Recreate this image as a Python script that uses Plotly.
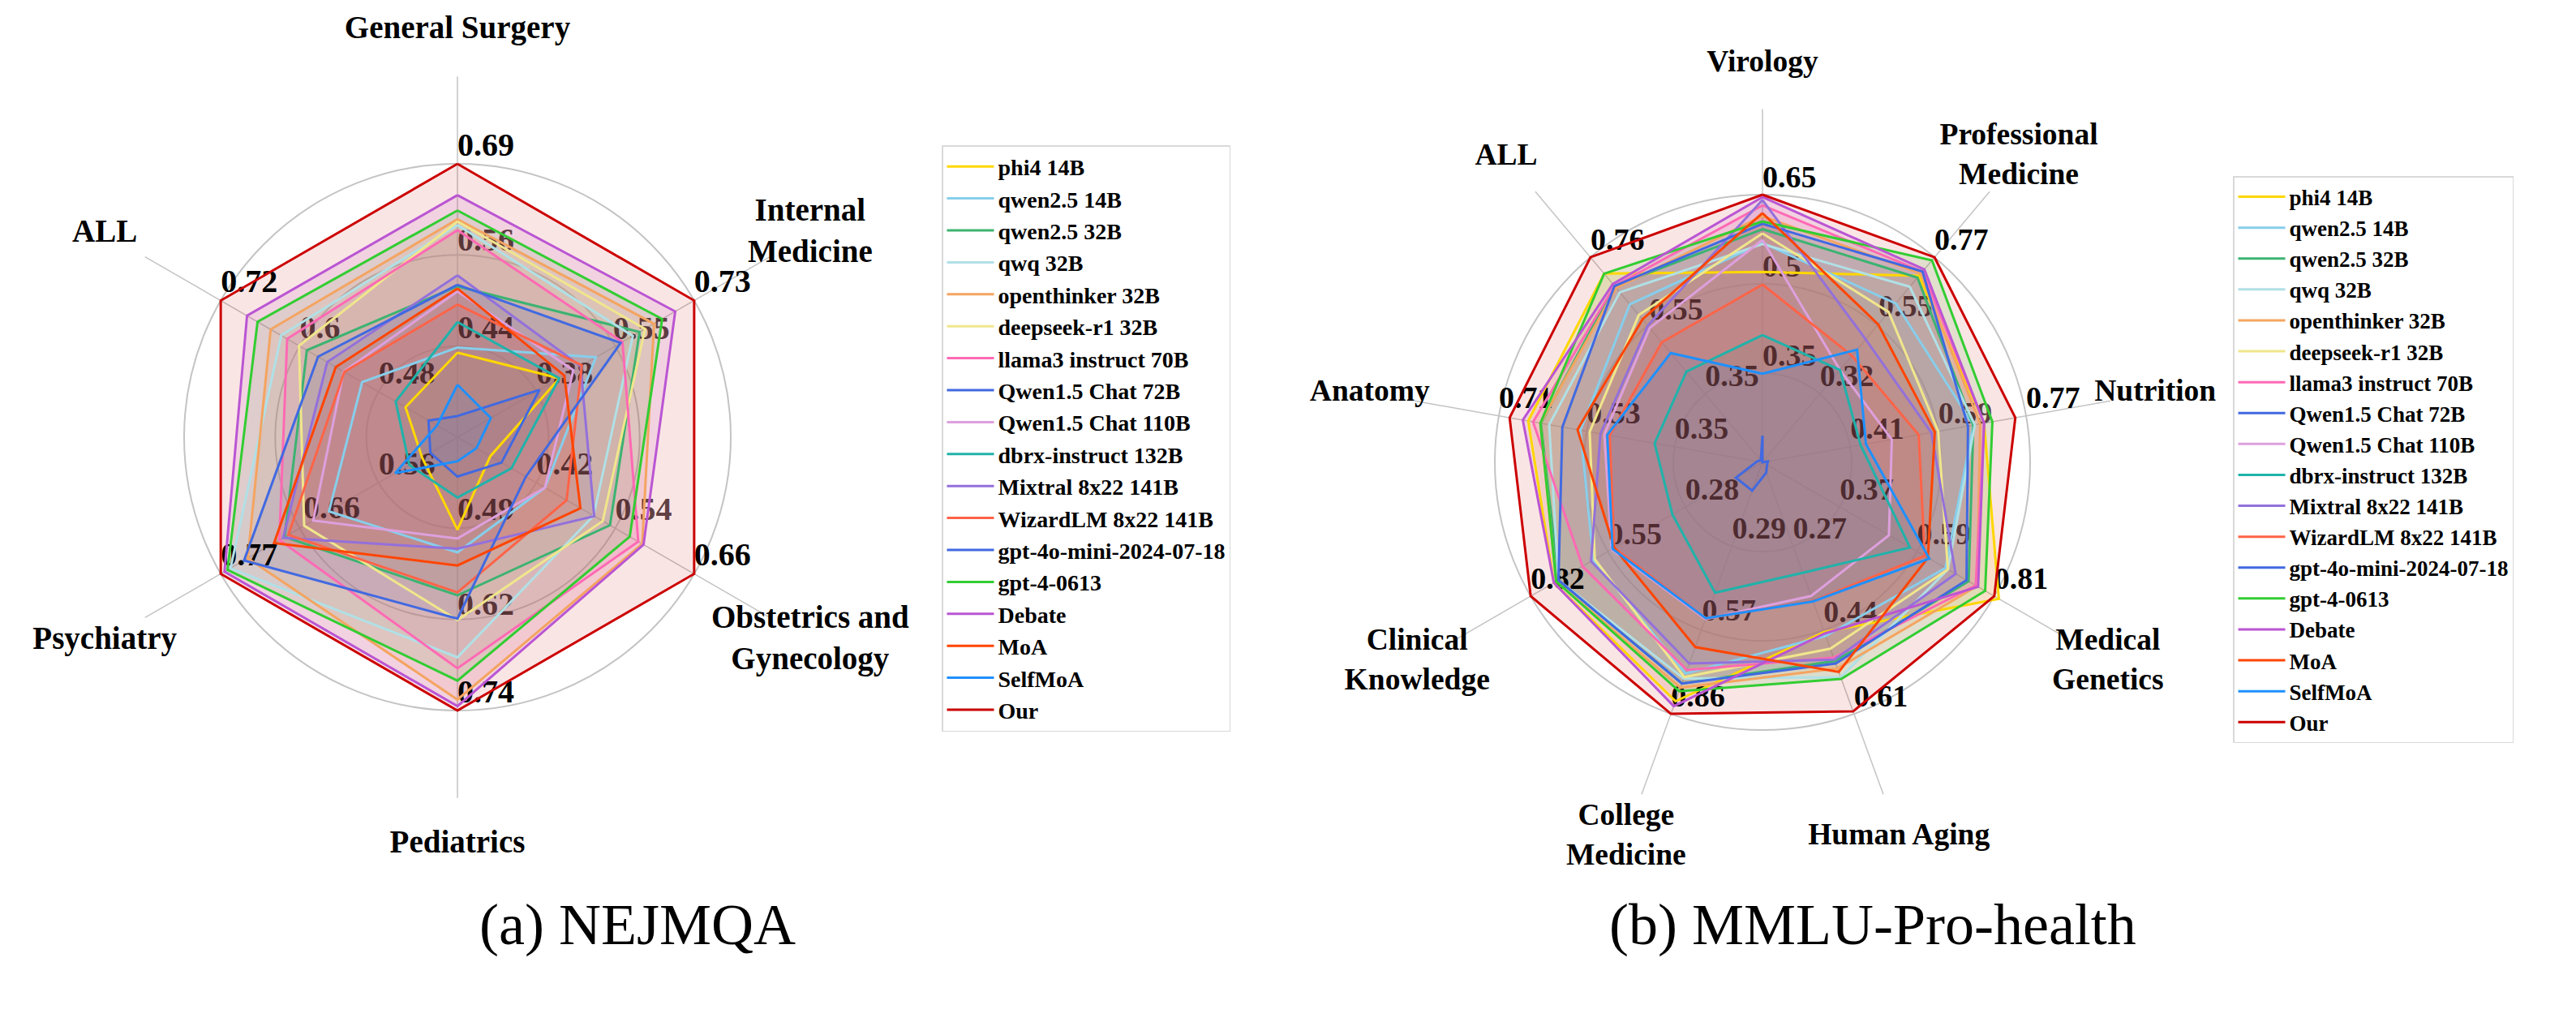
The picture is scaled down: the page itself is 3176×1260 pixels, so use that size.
import plotly.graph_objects as go

# ---------------- data ----------------
models = ["phi4 14B", "qwen2.5 14B", "qwen2.5 32B", "qwq 32B", "openthinker 32B",
          "deepseek-r1 32B", "llama3 instruct 70B", "Qwen1.5 Chat 72B", "Qwen1.5 Chat 110B",
          "dbrx-instruct 132B", "Mixtral 8x22 141B", "WizardLM 8x22 141B",
          "gpt-4o-mini-2024-07-18", "gpt-4-0613", "Debate", "MoA", "SelfMoA", "Our"]

colors = ["#FFD700", "#87CEEB", "#3CB371", "#B0E0E6", "#F4A460", "#F0E68C", "#FF69B4",
          "#4169E1", "#DDA0DD", "#20B2AA", "#9370DB", "#FF6347", "#4169E1", "#32CD32",
          "#BA55D3", "#FF4500", "#1E90FF", "#CC0000"]

# (a) NEJMQA
nejm_axes = ["General Surgery", "Internal<br>Medicine", "Obstetrics and<br>Gynecology",
             "Pediatrics", "Psychiatry", "ALL"]
nejm_ticks = [[0.44, 0.56, 0.69], [0.38, 0.55, 0.73], [0.42, 0.54, 0.66],
              [0.49, 0.62, 0.74], [0.56, 0.66, 0.77], [0.48, 0.60, 0.72]]

nejm_phi4 = [0.431, 0.431, 0.350, 0.492, 0.502, 0.439]
nejm_qwen25_14b = [0.438, 0.512, 0.433, 0.523, 0.626, 0.505]
nejm_qwen25_32b = [0.522, 0.609, 0.532, 0.582, 0.685, 0.589]
nejm_qwq_32b = [0.606, 0.594, 0.507, 0.667, 0.757, 0.628]
nejm_openthinker = [0.614, 0.641, 0.581, 0.725, 0.734, 0.644]
nejm_deepseek = [0.611, 0.621, 0.521, 0.616, 0.659, 0.601]
nejm_llama3 = [0.599, 0.571, 0.575, 0.682, 0.692, 0.619]
nejm_qwen15_72b = [0.344, 0.387, 0.367, 0.419, 0.491, 0.404]
nejm_qwen15_110b = [0.515, 0.462, 0.433, 0.504, 0.647, 0.533]
nejm_dbrx = [0.473, 0.431, 0.382, 0.448, 0.519, 0.454]
nejm_mixtral = [0.537, 0.478, 0.508, 0.518, 0.687, 0.558]
nejm_wizardlm = [0.497, 0.481, 0.466, 0.578, 0.680, 0.532]
nejm_gpt4o_mini = [0.524, 0.567, 0.404, 0.614, 0.739, 0.572]
nejm_gpt4 = [0.626, 0.659, 0.562, 0.699, 0.761, 0.664]
nejm_debate = [0.647, 0.688, 0.583, 0.734, 0.765, 0.680]
nejm_moa = [0.519, 0.442, 0.487, 0.541, 0.699, 0.545]
nejm_selfmoa = [0.387, 0.279, 0.329, 0.398, 0.538, 0.391]
nejm_our = [0.690, 0.730, 0.660, 0.740, 0.770, 0.720]

# (b) MMLU-Pro-health
mmlu_axes = ["Virology", "Professional<br>Medicine", "Nutrition", "Medical<br>Genetics",
             "Human Aging", "College<br>Medicine", "Clinical<br>Knowledge", "Anatomy", "ALL"]
mmlu_ticks = [[0.35, 0.50, 0.65], [0.32, 0.55, 0.77], [0.41, 0.59, 0.77],
              [0.37, 0.59, 0.81], [0.27, 0.44, 0.61], [0.29, 0.57, 0.86],
              [0.28, 0.55, 0.82], [0.35, 0.53, 0.71], [0.35, 0.55, 0.76]]

mmlu_phi4 = [0.520, 0.709, 0.684, 0.823, 0.444, 0.817, 0.739, 0.650, 0.711]
mmlu_qwen25_14b = [0.569, 0.618, 0.662, 0.671, 0.452, 0.723, 0.601, 0.543, 0.619]
mmlu_qwen25_32b = [0.592, 0.703, 0.662, 0.737, 0.503, 0.757, 0.723, 0.624, 0.674]
mmlu_qwq_32b = [0.567, 0.673, 0.665, 0.678, 0.536, 0.740, 0.723, 0.607, 0.655]
mmlu_openthinker = [0.614, 0.716, 0.676, 0.761, 0.518, 0.771, 0.731, 0.625, 0.668]
mmlu_deepseek = [0.585, 0.590, 0.590, 0.678, 0.478, 0.735, 0.596, 0.524, 0.587]
mmlu_llama3 = [0.632, 0.723, 0.684, 0.757, 0.496, 0.711, 0.639, 0.640, 0.674]
mmlu_qwen15_72b = [0.245, 0.095, 0.241, 0.163, 0.121, 0.101, 0.103, 0.181, 0.151]
mmlu_qwen15_110b = [0.574, 0.399, 0.495, 0.510, 0.371, 0.538, 0.537, 0.494, 0.548]
mmlu_dbrx = [0.414, 0.399, 0.431, 0.570, 0.324, 0.448, 0.325, 0.391, 0.417]
mmlu_mixtral = [0.641, 0.500, 0.576, 0.700, 0.500, 0.689, 0.609, 0.502, 0.555]
mmlu_wizardlm = [0.499, 0.446, 0.550, 0.612, 0.381, 0.535, 0.528, 0.483, 0.505]
mmlu_gpt4o_mini = [0.601, 0.723, 0.651, 0.731, 0.508, 0.757, 0.723, 0.580, 0.674]
mmlu_gpt4 = [0.605, 0.760, 0.701, 0.784, 0.539, 0.783, 0.731, 0.625, 0.711]
mmlu_debate = [0.646, 0.730, 0.684, 0.764, 0.447, 0.834, 0.739, 0.661, 0.680]
mmlu_moa = [0.619, 0.549, 0.583, 0.621, 0.525, 0.633, 0.528, 0.549, 0.574]
mmlu_selfmoa = [0.349, 0.466, 0.442, 0.625, 0.382, 0.535, 0.534, 0.488, 0.473]
mmlu_our = [0.650, 0.770, 0.748, 0.810, 0.605, 0.860, 0.820, 0.688, 0.760]

nejm_values = [nejm_phi4, nejm_qwen25_14b, nejm_qwen25_32b, nejm_qwq_32b, nejm_openthinker,
               nejm_deepseek, nejm_llama3, nejm_qwen15_72b, nejm_qwen15_110b, nejm_dbrx,
               nejm_mixtral, nejm_wizardlm, nejm_gpt4o_mini, nejm_gpt4, nejm_debate,
               nejm_moa, nejm_selfmoa, nejm_our]
mmlu_values = [mmlu_phi4, mmlu_qwen25_14b, mmlu_qwen25_32b, mmlu_qwq_32b, mmlu_openthinker,
               mmlu_deepseek, mmlu_llama3, mmlu_qwen15_72b, mmlu_qwen15_110b, mmlu_dbrx,
               mmlu_mixtral, mmlu_wizardlm, mmlu_gpt4o_mini, mmlu_gpt4, mmlu_debate,
               mmlu_moa, mmlu_selfmoa, mmlu_our]

# ---------------- helpers ----------------
FONT = "Liberation Serif"
SPOKE_END = 1.32     # spokes reach a bit beyond the outer ring
LABEL_R = 1.49       # radius of the category labels
RMAX = 1.55          # radial range of each polar subplot
OFF = 8              # page body margin
W, H = 3176 - 2 * OFF, 1260 - 2 * OFF


def px(x):
    return min(1.0, max(0.0, (x - OFF) / W))


def py(y):
    return min(1.0, max(0.0, 1 - (y - OFF) / H))


def rgba(h, a):
    h = h.lstrip("#")
    return f"rgba({int(h[0:2], 16)},{int(h[2:4], 16)},{int(h[4:6], 16)},{a})"


def norm(v, t):
    # ticks sit on the rings at 1/3, 2/3 and 1 of the unit radius
    slope = (t[2] - t[0]) / (2.0 / 3.0)
    lo = t[0] - slope / 3.0
    return (v - lo) / slope


def fmt(v):
    return f"{v:g}"


fig = go.Figure()


def add_radar(polar, legend, axes, ticks, values, fsize, lsize):
    n = len(axes)
    thetas = [i * 360.0 / n for i in range(n)]
    tt = thetas + [thetas[0]]
    # spokes
    for th in thetas:
        fig.add_trace(go.Scatterpolar(
            r=[0, SPOKE_END], theta=[th, th], mode="lines",
            line=dict(color="#c4c4c4", width=1.5), subplot=polar,
            showlegend=False, hoverinfo="skip"))
    # category labels
    fig.add_trace(go.Scatterpolar(
        r=[LABEL_R] * n, theta=thetas, text=axes, mode="text", textposition="middle center",
        textfont=dict(family=FONT, size=lsize, color="black", weight="bold"),
        subplot=polar, showlegend=False, hoverinfo="skip", cliponaxis=False))
    # translucent fills
    for name, col, vals in zip(models, colors, values):
        rr = [norm(v, t) for v, t in zip(vals, ticks)]
        rr = rr + [rr[0]]
        alpha = 0.10 if name == "Our" else 0.12
        fig.add_trace(go.Scatterpolar(
            r=rr, theta=tt, mode="lines", fill="toself", fillcolor=rgba(col, alpha),
            line=dict(width=0, color=rgba(col, 0)), subplot=polar, showlegend=False,
            hoverinfo="skip", legendgroup=legend + name))
    # tick labels: inner rings (muted) and outer ring (black)
    r_in, th_in, tx_in = [], [], []
    for k in range(2):
        for i in range(n):
            r_in.append(norm(ticks[i][k], ticks[i]))
            th_in.append(thetas[i])
            tx_in.append(fmt(ticks[i][k]))
    fig.add_trace(go.Scatterpolar(
        r=r_in, theta=th_in, text=tx_in, mode="text", textposition="top right",
        textfont=dict(family=FONT, size=fsize, color="rgba(55,18,22,0.78)", weight="bold"),
        subplot=polar, showlegend=False, hoverinfo="skip", cliponaxis=False))
    fig.add_trace(go.Scatterpolar(
        r=[norm(ticks[i][2], ticks[i]) for i in range(n)], theta=thetas,
        text=[fmt(ticks[i][2]) for i in range(n)], mode="text", textposition="top right",
        textfont=dict(family=FONT, size=fsize, color="black", weight="bold"),
        subplot=polar, showlegend=False, hoverinfo="skip", cliponaxis=False))
    # series outlines
    for name, col, vals in zip(models, colors, values):
        rr = [norm(v, t) for v, t in zip(vals, ticks)]
        rr = rr + [rr[0]]
        fig.add_trace(go.Scatterpolar(
            r=rr, theta=tt, mode="lines", name=name, line=dict(width=3, color=col),
            subplot=polar, legend=legend, legendgroup=legend + name))
    return thetas


th1 = add_radar("polar", "legend", nejm_axes, nejm_ticks, nejm_values, 40, 39)
th2 = add_radar("polar2", "legend2", mmlu_axes, mmlu_ticks, mmlu_values, 38, 37.5)


def polar_layout(cx, cy, R, thetas):
    half = R * RMAX
    return dict(
        domain=dict(x=[px(cx - half), px(cx + half)],
                    y=[py(cy + half), py(cy - half)]),
        bgcolor="rgba(0,0,0,0)",
        radialaxis=dict(range=[0, RMAX], tickvals=[1 / 3, 2 / 3, 1.0], showticklabels=False,
                        ticks="", showline=False, gridcolor="#c4c4c4", gridwidth=1.5),
        angularaxis=dict(rotation=90, direction="clockwise", thetaunit="degrees",
                         tickvals=thetas, showticklabels=False, ticks="", showline=False,
                         showgrid=False),
    )


legend_common = dict(xanchor="left", yanchor="top", bgcolor="white",
                     bordercolor="#d9d9d9", borderwidth=1.5, itemwidth=58,
                     tracegroupgap=0)

fig.update_layout(
    width=W, height=H, margin=dict(l=0, r=0, t=0, b=0),
    paper_bgcolor="white", plot_bgcolor="white",
    polar=polar_layout(564, 539, 337, th1),
    polar2=polar_layout(2173, 570, 330, th2),
    legend=dict(x=px(1161), y=py(179),
                font=dict(family=FONT, size=28, color="black", weight="bold"),
                **legend_common),
    legend2=dict(x=px(2753), y=py(217),
                 font=dict(family=FONT, size=27, color="black", weight="bold"),
                 **legend_common),
    annotations=[
        dict(text="(a) NEJMQA", x=px(786), y=py(1140), xref="paper", yref="paper",
             xanchor="center", yanchor="middle", showarrow=False,
             font=dict(family=FONT, size=72, color="black")),
        dict(text="(b) MMLU-Pro-health", x=px(2309), y=py(1140), xref="paper",
             yref="paper", xanchor="center", yanchor="middle", showarrow=False,
             font=dict(family=FONT, size=72, color="black")),
    ],
)

fig.write_html("out.html")
